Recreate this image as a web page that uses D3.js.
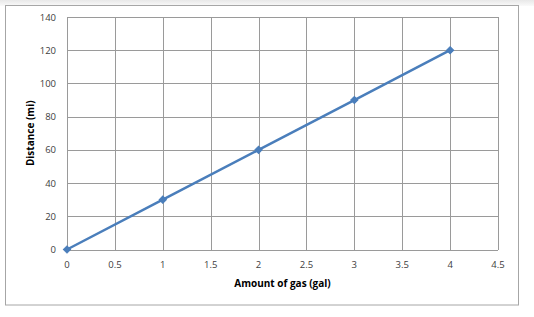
<!DOCTYPE html>
<html><head><meta charset="utf-8">
<script src="https://cdn.jsdelivr.net/npm/d3@7"></script>
<style>html,body{margin:0;padding:0;background:#fff;overflow:hidden}</style>
</head><body>
<script>
const gallons = [0, 1, 2, 3, 4];
const distance = [0, 30, 60, 90, 120];
const xTicks = [0, 0.5, 1, 1.5, 2, 2.5, 3, 3.5, 4, 4.5];
const yTicks = [0, 20, 40, 60, 80, 100, 120, 140];
const xTitle = "Amount of gas (gal)";
const yTitle = "Distance (mi)";

const W = 534, H = 317;
const svg = d3.select("body").append("svg").attr("width", W).attr("height", H);
const defs = svg.append("defs");
const lg = defs.append("linearGradient").attr("id","topg").attr("x1",0).attr("x2",0).attr("y1",0).attr("y2",1);
lg.append("stop").attr("offset","0").attr("stop-color","#e8e8e8");
lg.append("stop").attr("offset","1").attr("stop-color","#fafafa");
svg.append("rect").attr("x",0).attr("y",0).attr("width",W).attr("height",6).attr("fill","url(#topg)");
svg.append("rect").attr("x",5.5).attr("y",5.5).attr("width",513).attr("height",299.5)
  .attr("fill","#fff").attr("stroke","#a6a6a6").attr("stroke-width",1);

const x = d3.scaleLinear().domain([0, 4.5]).range([67, 498]);
const y = d3.scaleLinear().domain([0, 140]).range([249.5, 17]);

const grid = svg.append("g").attr("stroke","#9a9a9a").attr("stroke-width",1).attr("shape-rendering","crispEdges");
grid.selectAll("line.v").data(xTicks).join("line").attr("class","v")
  .attr("x1", d => Math.round(x(d))+0.5).attr("x2", d => Math.round(x(d))+0.5)
  .attr("y1", y(140)).attr("y2", y(0));
grid.selectAll("line.h").data(yTicks).join("line").attr("class","h")
  .attr("y1", d => Math.round(y(d))+0.5).attr("y2", d => Math.round(y(d))+0.5)
  .attr("x1", x(0)).attr("x2", x(4.5));

const font = "'Open Sans', 'DejaVu Sans', sans-serif";
svg.append("g").selectAll("text").data(xTicks).join("text")
  .attr("x", d => x(d)).attr("y", 268).attr("text-anchor","middle")
  .attr("font-family", font).attr("font-size", 9.5).attr("fill","#404040")
  .text(d => d);
svg.append("g").selectAll("text").data(yTicks).join("text")
  .attr("x", 56).attr("y", d => y(d) + 3.5).attr("text-anchor","end")
  .attr("font-family", font).attr("font-size", 9.5).attr("fill","#404040")
  .text(d => d);

svg.append("text").attr("x", (x(0)+x(4.5))/2).attr("y", 287).attr("text-anchor","middle")
  .attr("font-family", font).attr("font-size", 10).attr("font-weight","bold").attr("fill","#000")
  .text(xTitle);
svg.append("text").attr("transform", `translate(34,${(y(0)+y(140))/2}) rotate(-90)`).attr("text-anchor","middle")
  .attr("font-family", font).attr("font-size", 10).attr("font-weight","bold").attr("fill","#000")
  .text(yTitle);

const data = gallons.map((g,i) => ({g, d: distance[i]}));
svg.append("path").datum(data)
  .attr("d", d3.line().x(d => x(d.g)).y(d => y(d.d)))
  .attr("fill","none").attr("stroke","#4a7ebb").attr("stroke-width",2.5);
svg.append("g").selectAll("path").data(data).join("path")
  .attr("transform", d => `translate(${x(d.g)},${y(d.d)}) rotate(45)`)
  .attr("d", d3.symbol().type(d3.symbolSquare).size(26))
  .attr("fill","#4a7ebb").attr("stroke","#4a7ebb").attr("stroke-width",1);
</script>
</body></html>
